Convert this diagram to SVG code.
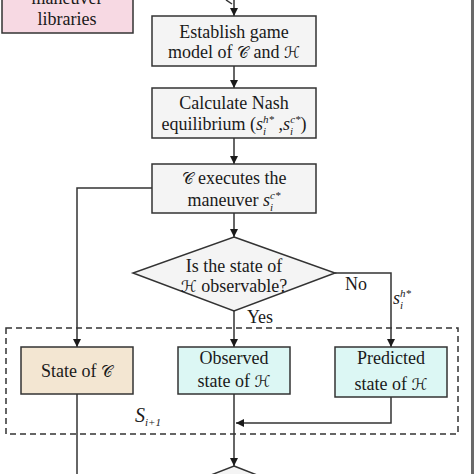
<svg xmlns="http://www.w3.org/2000/svg" width="474" height="474" viewBox="0 0 474 474">
<defs>
<style>
.box{stroke:#333;stroke-width:1.5}
.gray{fill:#f4f4f4}
.pink{fill:#f7d9e3}
.beige{fill:#f3e6d2}
.cyan{fill:#dcf7f4}
.ln{fill:none;stroke:#333;stroke-width:1.5}
.dash{fill:none;stroke:#333;stroke-width:1.5;stroke-dasharray:6,4}
text{font-family:"Liberation Serif","DejaVu Serif",serif;font-size:18px;fill:#1a1a1a;text-anchor:middle}
.it{font-style:italic}
.sc{font-family:"DejaVu Serif","DejaVu Sans",serif;font-size:16px;font-weight:normal}
.sm{font-size:11px}
</style>
<marker id="ah" viewBox="0 0 10 10" refX="10" refY="5" markerWidth="8" markerHeight="8" markerUnits="userSpaceOnUse" orient="auto">
<path d="M0,0 L10,5 L0,10 z" fill="#1a1a1a"/>
</marker>
</defs>
<rect width="474" height="474" fill="#ffffff"/>
<rect x="471" y="0" width="3" height="474" fill="#6a6a6a"/>

<g id="connectors">
<path class="ln" d="M234,0 L234,16" marker-end="url(#ah)"/>
<path class="ln" d="M226,0 L232,4"/>
<path class="ln" d="M234,66 L234,88" marker-end="url(#ah)"/>
<path class="ln" d="M234,138 L234,164" marker-end="url(#ah)"/>
<path class="ln" d="M234,213 L234,237" marker-end="url(#ah)"/>
<path class="ln" d="M152,188 L77,188 L77,347" marker-end="url(#ah)"/>
<path class="ln" d="M234,311 L234,347" marker-end="url(#ah)"/>
<path class="ln" d="M335,273 L391,273 L391,347" marker-end="url(#ah)"/>
<path class="ln" d="M391,397 L391,423 L236,423" marker-end="url(#ah)"/>
<path class="ln" d="M234,394 L234,466" marker-end="url(#ah)"/>
<path class="ln" d="M77,394 L77,474"/>
<rect class="dash" x="6" y="328" width="452" height="106"/>
</g>

<g id="libraries">
<rect class="box pink" x="2" y="-20" width="131" height="53"/>
<text x="67" y="4">maneuver</text>
<text x="67" y="25">libraries</text>
</g>

<g id="establish">
<rect class="box gray" x="152" y="16" width="164" height="50"/>
<text x="234" y="38">Establish game</text>
<text x="234" y="58">model of <tspan class="sc">𝒞</tspan>  and <tspan class="sc">ℋ</tspan></text>
</g>

<g id="nash">
<rect class="box gray" x="152" y="88" width="164" height="50"/>
<text x="234" y="109">Calculate Nash</text>
<text x="234" y="130">equilibrium (<tspan class="it">s</tspan><tspan class="it sm" dy="5">i</tspan><tspan class="it sm" dx="-3" dy="-12">h*</tspan><tspan dy="7"> ,</tspan><tspan class="it">s</tspan><tspan class="it sm" dy="5">i</tspan><tspan class="it sm" dx="-3" dy="-12">c*</tspan><tspan dy="7">)</tspan></text>
</g>

<g id="executes">
<rect class="box gray" x="152" y="164" width="164" height="49"/>
<text x="234" y="184"><tspan class="sc">𝒞</tspan>  executes the</text>
<text x="234" y="206">maneuver <tspan class="it">s</tspan><tspan class="it sm" dy="5">i</tspan><tspan class="it sm" dx="-3" dy="-12">c*</tspan></text>
</g>

<g id="decision">
<path class="box gray" d="M234,237 L335,273 L234,311 L133,273 Z"/>
<text x="234" y="272">Is the  state of</text>
<text x="234" y="292"><tspan class="sc">ℋ</tspan> observable?</text>
</g>

<g id="labels">
<text x="356" y="290">No</text>
<text x="260" y="323">Yes</text>
<text x="402" y="304"><tspan class="it">s</tspan><tspan class="it sm" dy="5">i</tspan><tspan class="it sm" dx="-3" dy="-12">h*</tspan></text>
<text x="148" y="422"><tspan class="it" font-size="20">S</tspan><tspan class="it sm" dy="4">i+1</tspan></text>
</g>

<g id="stateC">
<rect class="box beige" x="21" y="347" width="112" height="47"/>
<text x="77" y="377">State of  <tspan class="sc">𝒞</tspan></text>
</g>

<g id="observed">
<rect class="box cyan" x="178" y="347" width="112" height="47"/>
<text x="234" y="364">Observed</text>
<text x="234" y="387">state of <tspan class="sc">ℋ</tspan></text>
</g>

<g id="predicted">
<rect class="box cyan" x="335" y="347" width="112" height="50"/>
<text x="391" y="364">Predicted</text>
<text x="391" y="390">state of <tspan class="sc">ℋ</tspan></text>
</g>

<g id="nextDecision">
<path class="box gray" d="M234,466 L280,484 L234,502 L188,484 Z"/>
</g>
</svg>
